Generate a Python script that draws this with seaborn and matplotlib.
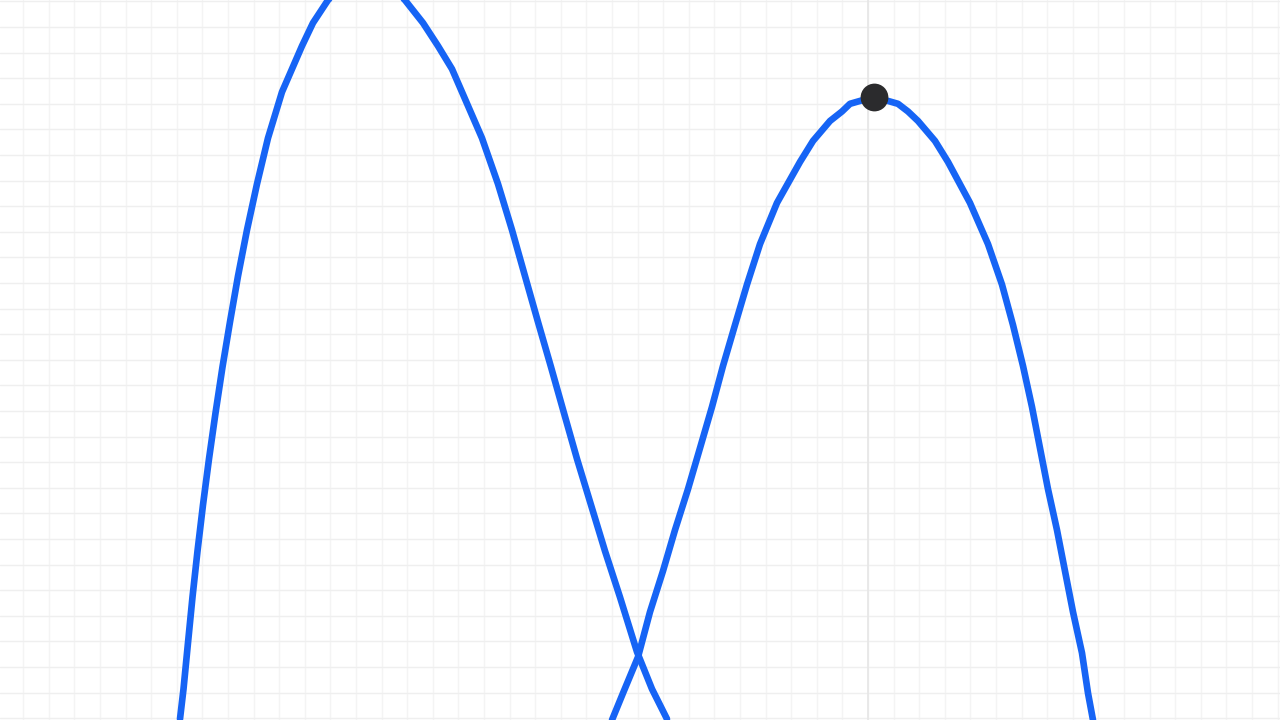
import numpy as np
import pandas as pd
import matplotlib
matplotlib.use("Agg")
import matplotlib.pyplot as plt
from matplotlib.ticker import MultipleLocator
import seaborn as sns

# curve values (grid units, one square = 1)
left_x = [-26.875, -26.738, -26.563, -26.387, -26.191, -25.977, -25.742, -25.488,
          -25.215, -24.922, -24.609, -24.258, -23.867, -23.438, -22.891, -22.500,
          -22.109, -21.680, -21.094, -20.586, -19.609, -18.594, -18.086, -17.383,
          -16.797, -16.250, -15.859, -15.078, -14.453, -13.906, -13.398, -12.891,
          -12.383, -11.875, -11.367, -10.820, -10.273, -9.688, -9.023, -8.438, -7.852]
left_y = [-0.03, 1.14, 2.94, 4.73, 6.53, 8.33, 10.13, 11.92,
          13.72, 15.48, 17.27, 19.07, 20.87, 22.66, 24.46, 25.36,
          26.26, 27.16, 28.05, 28.52, 28.91, 28.52, 28.05, 27.16,
          26.26, 25.36, 24.46, 22.66, 20.87, 19.07, 17.27, 15.48,
          13.72, 11.92, 10.13, 8.33, 6.53, 4.73, 2.59, 1.14, -0.03]

right_x = [-10.000, -9.570, -8.984, -8.516, -8.008, -7.539, -7.031, -6.563, -6.094,
           -5.664, -5.195, -4.727, -4.219, -3.555, -2.656, -2.148, -1.484, -1.016,
           -0.703, 0.234, 1.172, 1.563, 1.953, 2.617, 3.125, 3.984, 4.688, 5.234,
           5.664, 6.055, 6.406, 6.719, 7.031, 7.383, 7.695, 8.008, 8.359, 8.594, 8.789]
right_y = [-0.07, 0.98, 2.39, 4.15, 5.75, 7.35, 8.95, 10.55, 12.16,
           13.76, 15.36, 16.94, 18.52, 20.13, 21.73, 22.55, 23.33, 23.70,
           24.00, 24.27, 24.00, 23.70, 23.33, 22.55, 21.73, 20.13, 18.52, 16.94,
           15.36, 13.76, 12.16, 10.55, 8.95, 7.35, 5.75, 4.15, 2.55, 0.98, -0.07]

peak_x = [0.234]
peak_y = [24.27]

curves = pd.concat([
    pd.DataFrame({"x": left_x, "y": left_y, "curve": "a"}),
    pd.DataFrame({"x": right_x, "y": right_y, "curve": "b"}),
])

sns.set_style("white")
fig = plt.figure(figsize=(12.8, 7.2), dpi=100)
ax = fig.add_axes([0, 0, 1, 1])

sns.lineplot(data=curves, x="x", y="y", units="curve", estimator=None, sort=False,
             color="#1664f5", linewidth=4.8, ax=ax, legend=False, zorder=3)
ax.scatter(peak_x, peak_y, s=400, color="#2b2b2d", zorder=4, linewidths=0)

ax.set_xlim(-33.906, 16.094)
ax.set_ylim(-0.07, 28.055)
ax.xaxis.set_major_locator(MultipleLocator(1))
ax.yaxis.set_major_locator(MultipleLocator(1))
ax.grid(True, axis="y", color="#efefef", linewidth=1.0)
ax.grid(True, axis="x", color="#f4f4f4", linewidth=1.0)
ax.axvline(0, color="#e6e6e6", linewidth=1.2, zorder=1)
ax.tick_params(length=0, labelbottom=False, labelleft=False)
ax.set_xlabel("")
ax.set_ylabel("")
sns.despine(ax=ax, left=True, bottom=True)

fig.savefig("out.png", dpi=100)
